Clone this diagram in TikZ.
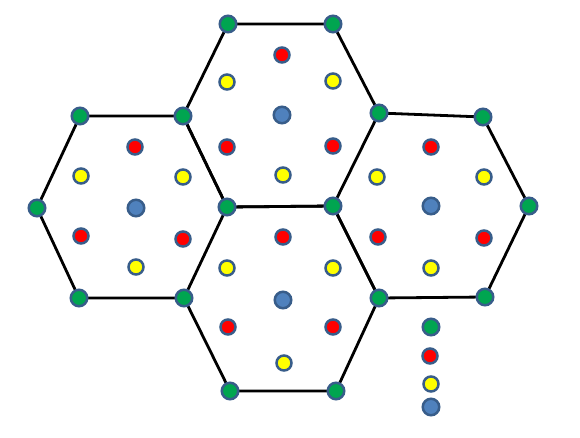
\documentclass[tikz,border=0pt]{standalone}
\definecolor{rim}{HTML}{385D8A}
\definecolor{gfill}{HTML}{00A550}
\definecolor{rfill}{HTML}{FF0000}
\definecolor{yfill}{HTML}{FFFF00}
\definecolor{bfill}{HTML}{4F81BD}
\tikzset{
  dotbase/.style={circle,draw=rim,line width=2.5pt,inner sep=0pt},
  gdot/.style={dotbase,fill=gfill,minimum size=16.5pt},
  rdot/.style={dotbase,fill=rfill,minimum size=15pt},
  ydot/.style={dotbase,fill=yfill,minimum size=15pt},
  bdot/.style={dotbase,fill=bfill,minimum size=16.5pt},
  edge/.style={line width=2.8pt,black,line join=round}
}
\begin{document}
\begin{tikzpicture}[x=1pt,y=1pt]
\useasboundingbox (0,0) rectangle (580,-438);
% hexagon corners
\coordinate (v1) at (80,-116);
\coordinate (v2) at (183,-116);
\coordinate (v3) at (227,-207);
\coordinate (v4) at (184,-298);
\coordinate (v5) at (79,-298);
\coordinate (v6) at (37,-208);
\coordinate (v7) at (228,-24);
\coordinate (v8) at (333,-24);
\coordinate (v9) at (379,-113);
\coordinate (v10) at (333,-206);
\coordinate (v11) at (483,-117);
\coordinate (v12) at (529,-206);
\coordinate (v13) at (485,-297);
\coordinate (v14) at (379,-298);
\coordinate (v15) at (336,-391);
\coordinate (v16) at (230,-391);
% hexagons
\draw[edge] (v1) -- (v2) -- (v3) -- (v4) -- (v5) -- (v6) -- cycle;
\draw[edge] (v7) -- (v8) -- (v9) -- (v10) -- (v3) -- (v2) -- cycle;
\draw[edge] (v9) -- (v11) -- (v12) -- (v13) -- (v14) -- (v10);
\draw[edge] (v3) -- (v10) -- (v14) -- (v15) -- (v16) -- (v4);
% corner dots
\foreach \v in {v1,v2,v3,v4,v5,v6,v7,v8,v9,v10,v11,v12,v13,v14,v15,v16}
  \node[gdot] (d\v) at (\v) {};
% left hexagon
\node[rdot] (h1r1) at (135,-147) {};
\node[ydot] (h1y1) at (81,-176) {};
\node[ydot] (h1y2) at (183,-177) {};
\node[bdot] (h1b) at (136,-208) {};
\node[rdot] (h1r2) at (81,-236) {};
\node[rdot] (h1r3) at (183,-239) {};
\node[ydot] (h1y3) at (136,-267) {};
% top hexagon
\node[rdot] (h2r1) at (282,-55) {};
\node[ydot] (h2y1) at (227,-82) {};
\node[ydot] (h2y2) at (333,-81) {};
\node[bdot] (h2b) at (282,-115) {};
\node[rdot] (h2r2) at (227,-147) {};
\node[rdot] (h2r3) at (333,-146) {};
\node[ydot] (h2y3) at (283,-175) {};
% right hexagon
\node[rdot] (h3r1) at (431,-147) {};
\node[ydot] (h3y1) at (377,-177) {};
\node[ydot] (h3y2) at (484,-177) {};
\node[bdot] (h3b) at (431,-206) {};
\node[rdot] (h3r2) at (378,-237) {};
\node[rdot] (h3r3) at (484,-238) {};
\node[ydot] (h3y3) at (431,-268) {};
% bottom hexagon
\node[rdot] (h4r1) at (283,-237) {};
\node[ydot] (h4y1) at (227,-268) {};
\node[ydot] (h4y2) at (333,-268) {};
\node[bdot] (h4b) at (283,-300) {};
\node[rdot] (h4r2) at (228,-327) {};
\node[rdot] (h4r3) at (333,-327) {};
\node[ydot] (h4y3) at (284,-363) {};
% legend column
\node[gdot] (lg) at (431,-327) {};
\node[rdot] (lr) at (430,-356) {};
\node[ydot] (ly) at (431,-384) {};
\node[bdot] (lb) at (431,-407) {};
\end{tikzpicture}
\end{document}
